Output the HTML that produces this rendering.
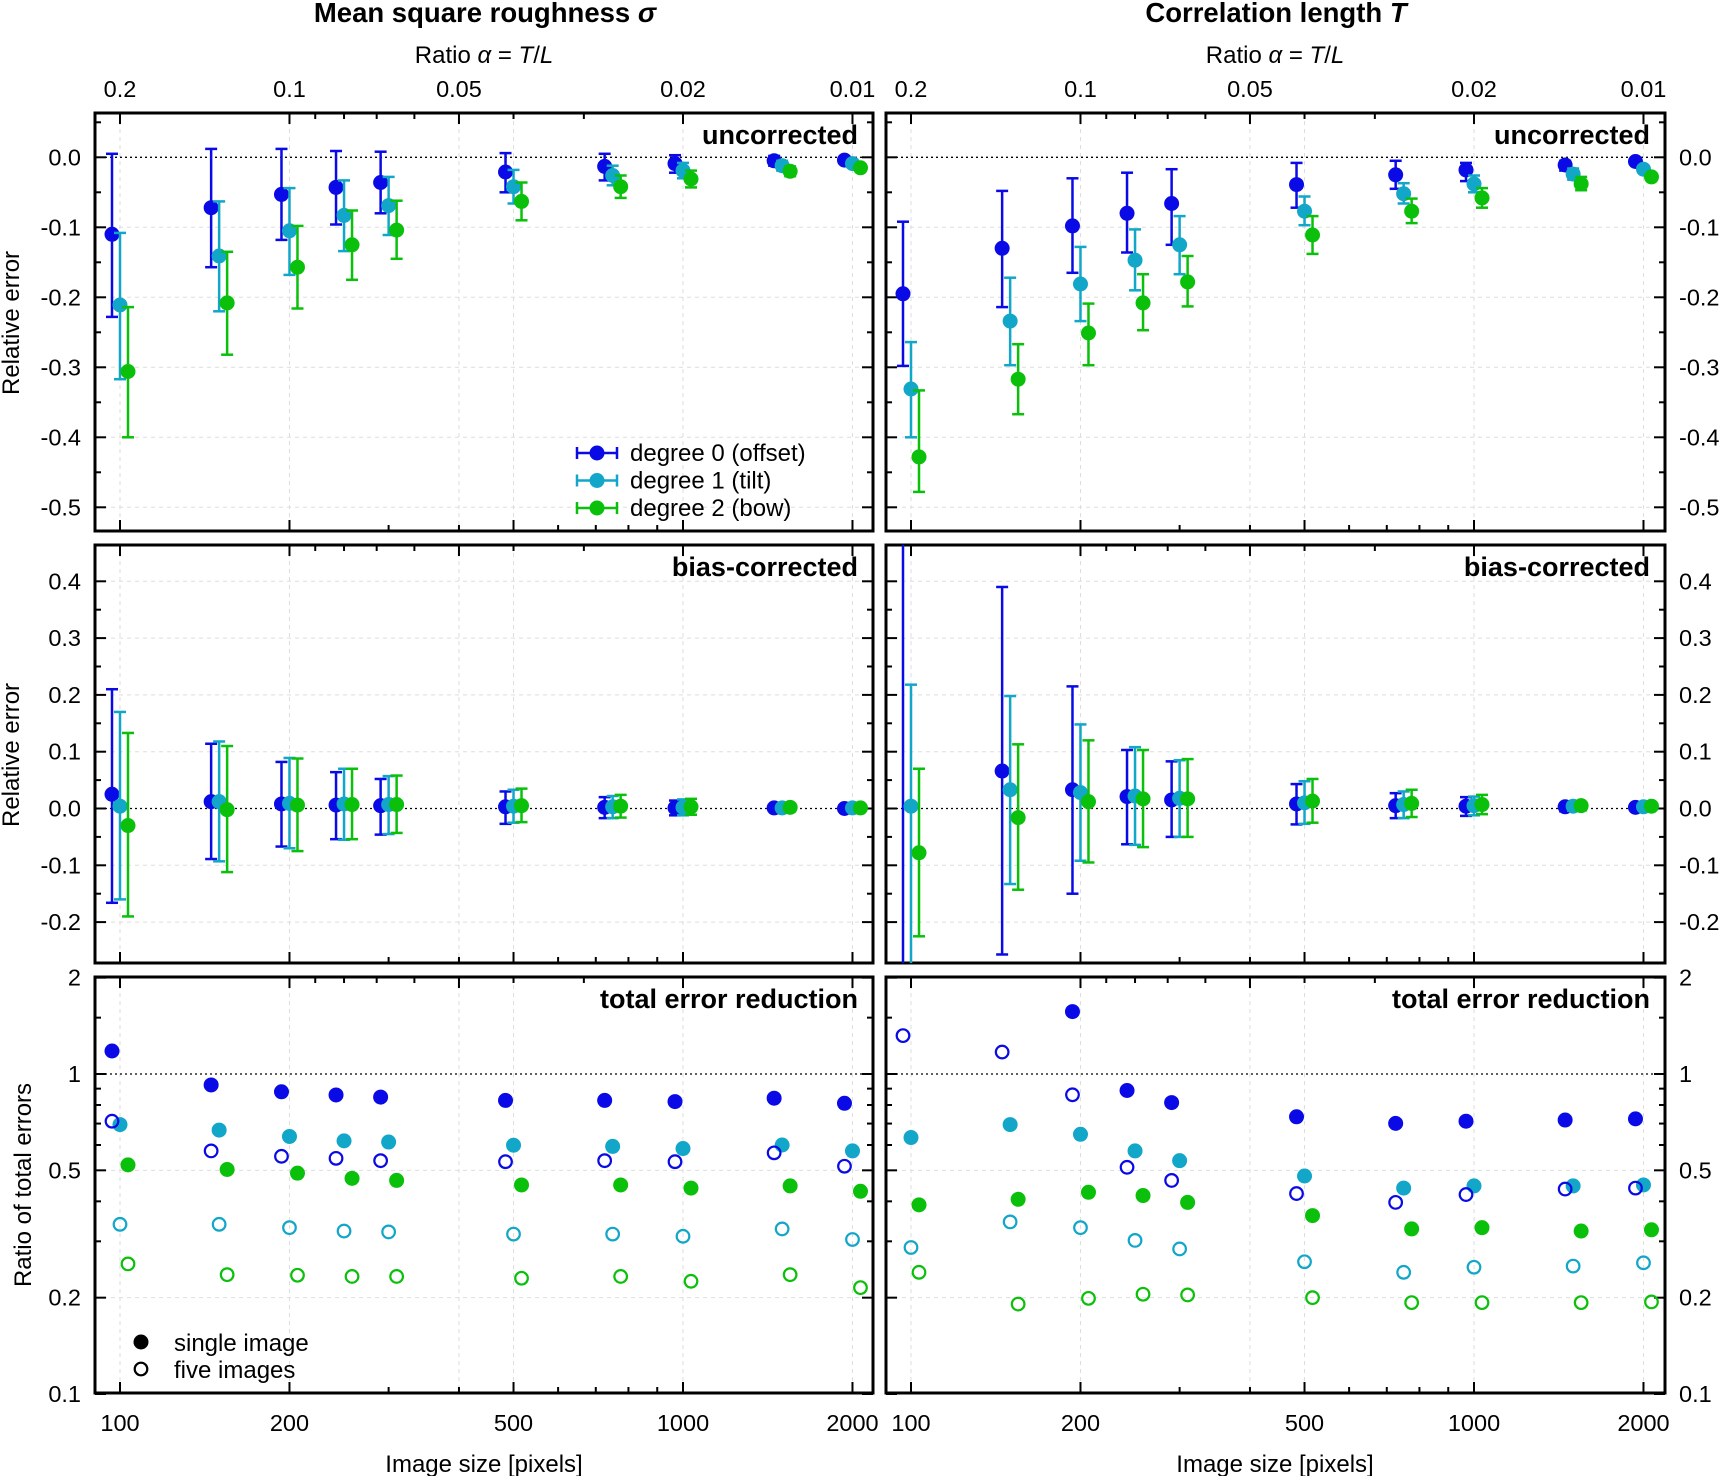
<!DOCTYPE html>
<html><head><meta charset="utf-8"><style>
html,body{margin:0;padding:0;background:#fff;}
svg{display:block;font-family:"Liberation Sans",sans-serif;}
</style></head><body>
<svg id="s" width="1720" height="1476" viewBox="0 0 1720 1476" xmlns="http://www.w3.org/2000/svg">
<text x="485" y="22" font-size="27.5" font-weight="bold" text-anchor="middle">Mean square roughness <tspan font-style="italic">σ</tspan></text>
<text x="1276" y="22" font-size="27.5" font-weight="bold" text-anchor="middle">Correlation length <tspan font-style="italic">T</tspan></text>
<text x="484" y="63" font-size="24" text-anchor="middle">Ratio <tspan font-style="italic">α</tspan> = <tspan font-style="italic">T</tspan>/<tspan font-style="italic">L</tspan></text>
<text x="1275" y="63" font-size="24" text-anchor="middle">Ratio <tspan font-style="italic">α</tspan> = <tspan font-style="italic">T</tspan>/<tspan font-style="italic">L</tspan></text>
<text x="484" y="1472" font-size="24" text-anchor="middle">Image size [pixels]</text>
<text x="1275" y="1472" font-size="24" text-anchor="middle">Image size [pixels]</text>
<text transform="translate(19,323) rotate(-90)" font-size="24" text-anchor="middle">Relative error</text>
<text transform="translate(19,755) rotate(-90)" font-size="24" text-anchor="middle">Relative error</text>
<text transform="translate(31,1185) rotate(-90)" font-size="24" text-anchor="middle">Ratio of total errors</text>
<g id="g"></g>
</svg>
<script>
const g=document.getElementById('g');let h='';
const C=['#0a0ae6','#12a6c8','#0ac00a'];
const PL=[95,886],PW=[778,779];
const ROWS=[[113,531],[545,963],[977,1393]];
const sizes=[100,150,200,250,300,500,750,1000,1500,2000];
function px(p,s){return 120+(p?791:0)+563*Math.log10(s/100);}
const Y=[v=>157.3-700*v, v=>808.5-568*v, v=>1074-320*Math.log10(v)];
const FS=23.5;
for(let r=0;r<3;r++)for(let p=0;p<2;p++){
 const x0=PL[p],x1=PL[p]+PW[p],y0=ROWS[r][0],y1=ROWS[r][1];
 h+=`<defs><clipPath id="c${r}${p}"><rect x="${x0}" y="${y0}" width="${x1-x0}" height="${y1-y0}"/></clipPath></defs>`;
 const gx=[100,200,400,500,1000,2000];
 gx.forEach(s=>{const x=px(p,s);h+=`<line x1="${x}" x2="${x}" y1="${y0}" y2="${y1}" stroke="#ddd" stroke-dasharray="4,4"/>`;});
 let yt,ym,lab;
 if(r==0){yt=[0,-0.1,-0.2,-0.3,-0.4,-0.5];ym=[0.05,-0.05,-0.15,-0.25,-0.35,-0.45];lab=v=>v.toFixed(1);}
 if(r==1){yt=[0.4,0.3,0.2,0.1,0,-0.1,-0.2];ym=[0.35,0.25,0.15,0.05,-0.05,-0.15];lab=v=>v.toFixed(1);}
 if(r==2){yt=[2,1,0.5,0.2,0.1];ym=[0.3,0.4,0.6,0.7,0.8,0.9,1.5];lab=v=>String(v);}
 yt.forEach(v=>{const y=Y[r](v);
  if(v!==0&&v!==1)h+=`<line x1="${x0}" x2="${x1}" y1="${y}" y2="${y}" stroke="#ddd" stroke-dasharray="4,4"/>`;
  h+=`<line x1="${x0}" x2="${x0+11}" y1="${y}" y2="${y}" stroke="#000" stroke-width="2"/><line x1="${x1}" x2="${x1-11}" y1="${y}" y2="${y}" stroke="#000" stroke-width="2"/>`;
  if(p==0)h+=`<text x="81" y="${y+8}" font-size="${FS}" text-anchor="end">${lab(v)}</text>`;
  else h+=`<text x="1679" y="${y+8}" font-size="${FS}">${lab(v)}</text>`;});
 ym.forEach(v=>{const y=Y[r](v);h+=`<line x1="${x0}" x2="${x0+6}" y1="${y}" y2="${y}" stroke="#000" stroke-width="2"/><line x1="${x1}" x2="${x1-6}" y1="${y}" y2="${y}" stroke="#000" stroke-width="2"/>`;});
 [100,200,500,1000,2000].forEach(s=>{const x=px(p,s);h+=`<line x1="${x}" x2="${x}" y1="${y1}" y2="${y1-11}" stroke="#000" stroke-width="2"/>`;
  if(r==2)h+=`<text x="${x}" y="1431" font-size="${FS}" text-anchor="middle">${s}</text>`;});
 [300,400,600,700,800,900].forEach(s=>{const x=px(p,s);h+=`<line x1="${x}" x2="${x}" y1="${y1}" y2="${y1-6}" stroke="#000" stroke-width="2"/>`;});
 [[0.2,'0.2'],[0.1,'0.1'],[0.05,'0.05'],[0.02,'0.02'],[0.01,'0.01']].forEach(([a,t])=>{const x=px(p,20/a);
  h+=`<line x1="${x}" x2="${x}" y1="${y0}" y2="${y0+11}" stroke="#000" stroke-width="2"/>`;
  if(r==0)h+=`<text x="${x}" y="97" font-size="${FS}" text-anchor="middle">${t}</text>`;});
 [0.09,0.08,0.07,0.06,0.04,0.03].forEach(a=>{const x=px(p,20/a);h+=`<line x1="${x}" x2="${x}" y1="${y0}" y2="${y0+6}" stroke="#000" stroke-width="2"/>`;});
 const yr=Y[r](r==2?1:0);
 h+=`<line x1="${x0}" x2="${x1}" y1="${yr}" y2="${yr}" stroke="#000" stroke-width="1.3" stroke-dasharray="2,3"/>`;
 h+=`<rect x="${x0}" y="${y0}" width="${x1-x0}" height="${y1-y0}" fill="none" stroke="#000" stroke-width="3"/>`;
 const t=['uncorrected','bias-corrected','total error reduction'][r];
 h+=`<text x="${x1-15}" y="${y0+31}" font-size="27" font-weight="bold" text-anchor="end">${t}</text>`;
}
const E={
'0L':[[[-0.11,0.005,-0.228],[-0.072,0.012,-0.157],[-0.053,0.012,-0.118],[-0.043,0.009,-0.096],[-0.036,0.008,-0.08],[-0.021,0.006,-0.05],[-0.013,0.005,-0.033],[-0.009,0.003,-0.022],[-0.005,0.002,-0.012],[-0.004,0,-0.008]],
 [[-0.211,-0.108,-0.317],[-0.141,-0.063,-0.22],[-0.105,-0.044,-0.168],[-0.083,-0.033,-0.134],[-0.069,-0.028,-0.111],[-0.042,-0.018,-0.066],[-0.026,-0.012,-0.04],[-0.019,-0.008,-0.03],[-0.012,-0.005,-0.019],[-0.009,-0.004,-0.014]],
 [[-0.306,-0.214,-0.4],[-0.208,-0.135,-0.282],[-0.157,-0.098,-0.216],[-0.125,-0.076,-0.175],[-0.104,-0.062,-0.145],[-0.063,-0.036,-0.09],[-0.042,-0.026,-0.058],[-0.031,-0.019,-0.043],[-0.02,-0.013,-0.027],[-0.015,-0.01,-0.02]]],
'0R':[[[-0.195,-0.092,-0.298],[-0.13,-0.048,-0.214],[-0.098,-0.03,-0.165],[-0.08,-0.022,-0.136],[-0.066,-0.017,-0.125],[-0.039,-0.008,-0.072],[-0.025,-0.005,-0.045],[-0.018,-0.008,-0.034],[-0.011,-0.005,-0.019],[-0.006,-0.003,-0.01]],
 [[-0.331,-0.264,-0.4],[-0.234,-0.172,-0.297],[-0.181,-0.128,-0.234],[-0.147,-0.103,-0.19],[-0.125,-0.084,-0.167],[-0.077,-0.056,-0.097],[-0.052,-0.037,-0.066],[-0.038,-0.026,-0.05],[-0.024,-0.016,-0.032],[-0.017,-0.013,-0.022]],
 [[-0.428,-0.333,-0.478],[-0.317,-0.267,-0.367],[-0.251,-0.209,-0.297],[-0.208,-0.167,-0.247],[-0.178,-0.141,-0.213],[-0.111,-0.084,-0.138],[-0.077,-0.059,-0.094],[-0.058,-0.044,-0.072],[-0.038,-0.028,-0.047],[-0.028,-0.023,-0.033]]],
'1L':[[[0.025,0.21,-0.166],[0.012,0.114,-0.089],[0.008,0.082,-0.067],[0.006,0.064,-0.054],[0.005,0.052,-0.046],[0.003,0.03,-0.027],[0.002,0.02,-0.017],[0.001,0.014,-0.012],[0.001,0.006,-0.004],[0,0.004,-0.003]],
 [[0.004,0.17,-0.16],[0.012,0.118,-0.093],[0.009,0.089,-0.07],[0.008,0.07,-0.055],[0.007,0.057,-0.045],[0.004,0.033,-0.025],[0.003,0.022,-0.017],[0.002,0.016,-0.012],[0.001,0.007,-0.005],[0.001,0.005,-0.003]],
 [[-0.03,0.133,-0.19],[-0.002,0.11,-0.112],[0.006,0.088,-0.075],[0.007,0.07,-0.054],[0.007,0.058,-0.043],[0.005,0.035,-0.024],[0.004,0.024,-0.016],[0.003,0.017,-0.011],[0.002,0.008,-0.005],[0.001,0.005,-0.003]]],
'1R':[[[0.6,1.5,-1],[0.066,0.39,-0.257],[0.033,0.215,-0.15],[0.021,0.103,-0.063],[0.015,0.083,-0.05],[0.008,0.043,-0.028],[0.005,0.027,-0.017],[0.004,0.02,-0.013],[0.003,0.009,-0.005],[0.002,0.006,-0.004]],
 [[0.004,0.218,-0.6],[0.033,0.198,-0.133],[0.028,0.148,-0.092],[0.022,0.108,-0.064],[0.018,0.085,-0.05],[0.01,0.048,-0.027],[0.007,0.03,-0.017],[0.005,0.021,-0.012],[0.004,0.01,-0.004],[0.003,0.007,-0.002]],
 [[-0.078,0.07,-0.225],[-0.016,0.113,-0.143],[0.012,0.12,-0.095],[0.017,0.103,-0.068],[0.017,0.087,-0.05],[0.013,0.052,-0.025],[0.009,0.033,-0.015],[0.007,0.024,-0.01],[0.005,0.011,-0.003],[0.004,0.008,0]]]
};
const off=[-8,0,8];
[['0L',0,0],['0R',0,1],['1L',1,0],['1R',1,1]].forEach(([k,r,p])=>{
 h+=`<g clip-path="url(#c${r}${p})">`;
 E[k].forEach((ser,d)=>ser.forEach((v,i)=>{const x=px(p,sizes[i])+off[d];const yc=Y[r](v[0]),yh=Y[r](v[1]),yl=Y[r](v[2]);
  h+=`<line x1="${x}" x2="${x}" y1="${yh}" y2="${yl}" stroke="${C[d]}" stroke-width="2.5"/><line x1="${x-6}" x2="${x+6}" y1="${yh}" y2="${yh}" stroke="${C[d]}" stroke-width="2.5"/><line x1="${x-6}" x2="${x+6}" y1="${yl}" y2="${yl}" stroke="${C[d]}" stroke-width="2.5"/><circle cx="${x}" cy="${yc}" r="7.5" fill="${C[d]}"/>`;}));
 h+='</g>';
});
const R={
 L:{f:[[1.18,.924,.88,.86,.847,.827,.827,.82,.84,.81],[.695,.668,.638,.618,.613,.599,.594,.585,.6,.575],[.52,.503,.49,.472,.465,.45,.45,.44,.447,.43]],
    o:[[.712,.575,.553,.545,.536,.532,.536,.532,.567,.515],[.339,.339,.331,.323,.321,.316,.316,.311,.328,.304],[.255,.236,.235,.233,.233,.23,.233,.225,.236,.215]]},
 R:{f:[[null,null,1.567,.888,.814,.735,.701,.712,.718,.724],[.633,.695,.648,.575,.536,.48,.44,.447,.447,.45],[.39,.406,.427,.417,.397,.361,.328,.331,.323,.326]],
    o:[[1.318,1.171,.861,.511,.465,.423,.397,.42,.437,.44],[.287,.345,.331,.302,.284,.259,.24,.249,.251,.257],[.24,.191,.199,.205,.204,.2,.193,.193,.193,.194]]}
};
[['L',0],['R',1]].forEach(([k,p])=>{
 R[k].f.forEach((s,d)=>s.forEach((v,i)=>{if(v==null)return;h+=`<circle cx="${px(p,sizes[i])+off[d]}" cy="${Y[2](v)}" r="7.5" fill="${C[d]}"/>`;}));
 R[k].o.forEach((s,d)=>s.forEach((v,i)=>{h+=`<circle cx="${px(p,sizes[i])+off[d]}" cy="${Y[2](v)}" r="6.3" fill="none" stroke="${C[d]}" stroke-width="2.2"/>`;}));
});
[['degree 0 (offset)',453],['degree 1 (tilt)',480.5],['degree 2 (bow)',508]].forEach(([t,y],d)=>{
 h+=`<line x1="577" x2="617" y1="${y}" y2="${y}" stroke="${C[d]}" stroke-width="2.5"/><line x1="577" x2="577" y1="${y-6}" y2="${y+6}" stroke="${C[d]}" stroke-width="2.5"/><line x1="617" x2="617" y1="${y-6}" y2="${y+6}" stroke="${C[d]}" stroke-width="2.5"/><circle cx="597" cy="${y}" r="7.5" fill="${C[d]}"/><text x="630" y="${y+8}" font-size="24">${t}</text>`;});
h+=`<circle cx="141" cy="1342" r="7.5" fill="#000"/><text x="174" y="1351" font-size="24">single image</text>`;
h+=`<circle cx="141" cy="1369" r="6.3" fill="none" stroke="#000" stroke-width="2.2"/><text x="174" y="1378" font-size="24">five images</text>`;
g.innerHTML=h;
</script>
</body></html>
